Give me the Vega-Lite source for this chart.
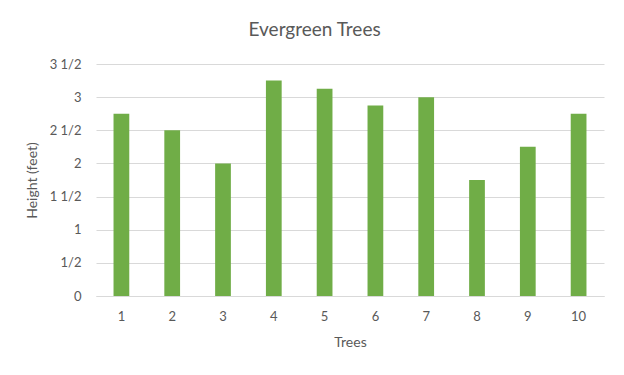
{
  "$schema": "https://vega.github.io/schema/vega-lite/v6.json",
  "autosize": "none",
  "width": 508,
  "height": 232,
  "padding": {"left": 96, "top": 64, "right": 20, "bottom": 79},
  "background": "white",
  "title": {
    "text": "Evergreen Trees",
    "font": "Lato",
    "fontSize": 19,
    "fontWeight": "normal",
    "color": "#595959",
    "anchor": "middle",
    "frame": "bounds",
    "offset": 18
  },
  "data": {
    "values": [
      {"tree": "1", "height": 2.75},
      {"tree": "2", "height": 2.5},
      {"tree": "3", "height": 2},
      {"tree": "4", "height": 3.25},
      {"tree": "5", "height": 3.125},
      {"tree": "6", "height": 2.875},
      {"tree": "7", "height": 3},
      {"tree": "8", "height": 1.75},
      {"tree": "9", "height": 2.25},
      {"tree": "10", "height": 2.75}
    ]
  },
  "mark": {"type": "bar", "color": "#70ad47"},
  "encoding": {
    "x": {
      "field": "tree",
      "type": "ordinal",
      "sort": null,
      "scale": {"paddingInner": 0.69, "paddingOuter": 0.345},
      "axis": {
        "title": "Trees",
        "labelAngle": 0,
        "ticks": false,
        "domainColor": "#d9d9d9",
        "labelPadding": 14,
        "titlePadding": 12
      }
    },
    "y": {
      "field": "height",
      "type": "quantitative",
      "scale": {"domain": [0, 3.5], "nice": false},
      "axis": {
        "title": "Height (feet)",
        "values": [0, 0.5, 1, 1.5, 2, 2.5, 3, 3.5],
        "labelExpr": "datum.value == 0 ? '0\u2007\u2007\u2007' : (datum.value % 1 == 0 ? format(datum.value, 'd') + '\u2007\u2007\u2007' : (datum.value < 1 ? '1/2' : floor(datum.value) + ' 1/2'))",
        "domain": false,
        "ticks": false,
        "grid": true,
        "gridColor": "#d9d9d9",
        "labelPadding": 15,
        "titlePadding": 10
      }
    }
  },
  "config": {
    "view": {"stroke": null},
    "axis": {
      "labelFont": "Lato",
      "labelFontSize": 13,
      "labelColor": "#595959",
      "titleFont": "Lato",
      "titleFontSize": 14,
      "titleFontWeight": "normal",
      "titleColor": "#595959"
    },
    "axisX": {"grid": false}
  }
}
